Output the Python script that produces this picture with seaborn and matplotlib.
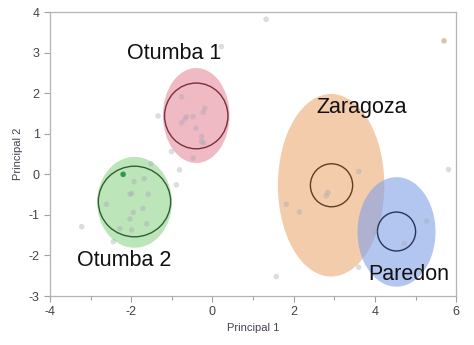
import matplotlib
matplotlib.use("Agg")
import matplotlib.pyplot as plt
from matplotlib.patches import Ellipse
import seaborn as sns
import pandas as pd

# ---- data ----
groups = ["Otumba 1", "Otumba 2", "Zaragoza", "Paredon"]
# outer ellipse (center x, center y, half-width, half-height)
ell_cx = [-0.40, -1.92, 2.92, 4.53]
ell_cy = [1.45, -0.69, -0.27, -1.42]
ell_rx = [0.82, 0.92, 1.31, 0.96]
ell_ry = [1.17, 1.12, 2.25, 1.35]
# inner circle (center x, center y, radius x, radius y)
circ_cx = [-0.40, -1.92, 2.93, 4.53]
circ_cy = [1.44, -0.67, -0.27, -1.41]
circ_rx = [0.78, 0.89, 0.52, 0.47]
circ_ry = [0.81, 0.87, 0.53, 0.48]
# group label positions
label_x = [-0.95, -2.17, 3.67, 4.83]
label_y = [2.97, -2.12, 1.64, -2.47]

pts_x = [-0.76, -1.34, -0.19, -0.23, -0.48, -0.64, -0.68, -0.76, -0.41, -0.27,
         -0.27, -0.22, -0.48, -1.01, 0.22,
         -1.52, -1.93, -1.68, -2.03, -1.99, -1.58, -2.61, -1.71, -1.95, -2.03,
         -1.62, -2.28, -1.99, -2.44, -3.22, -0.81, -0.89,
         3.60, 2.84, 2.80, 1.82, 2.14, 3.60, 1.57, 1.32,
         5.27, 4.72, 3.99, 5.81]
pts_y = [1.91, 1.44, 1.63, 1.53, 1.42, 1.42, 1.36, 1.27, 1.14, 0.93,
         0.81, 0.77, 0.40, 0.56, 3.15,
         0.26, -0.18, -0.11, -0.49, -0.47, -0.49, -0.74, -0.84, -0.94, -1.10,
         -1.22, -1.34, -1.37, -1.66, -1.29, 0.11, -0.26,
         0.07, -0.45, -0.53, -0.74, -0.93, -2.29, -2.52, 3.82,
         -1.15, -1.71, -1.41, 0.12]
hl_x = [-2.20]
hl_y = [0.00]
tan_x = [5.70]
tan_y = [3.29]

fills = ["#e6909e", "#95d690", "#eaad78", "#85a3e8"]
edges = ["#7a2f3c", "#2c5f33", "#5e3d22", "#27355c"]

sns.set_style("white")
plt.rcParams["font.family"] = ["Liberation Sans", "DejaVu Sans"]
plt.rcParams["axes.unicode_minus"] = False

fig = plt.figure(figsize=(4.74, 3.45), dpi=100)
ax = fig.add_axes([0.1055, 0.142, 0.857, 0.823])

for i in range(4):
    ax.add_patch(Ellipse((ell_cx[i], ell_cy[i]), 2 * ell_rx[i], 2 * ell_ry[i],
                         facecolor=fills[i], edgecolor="none", alpha=0.62, zorder=1))
    ax.add_patch(Ellipse((circ_cx[i], circ_cy[i]), 2 * circ_rx[i], 2 * circ_ry[i],
                         facecolor="none", edgecolor=edges[i], lw=1.0, zorder=3))

df = pd.DataFrame({"x": pts_x, "y": pts_y})
sns.scatterplot(data=df, x="x", y="y", ax=ax, color="#a8a8b4", alpha=0.4,
                s=16, edgecolor="none", zorder=4, legend=False)
sns.scatterplot(x=hl_x, y=hl_y, ax=ax, color="#2f9a3f", s=16, edgecolor="none", zorder=5)
sns.scatterplot(x=tan_x, y=tan_y, ax=ax, color="#d9c6a8", s=16, edgecolor="none", zorder=5)

for i in range(4):
    ax.text(label_x[i], label_y[i], groups[i], fontsize=15.5, color="#111111",
            ha="center", va="center", zorder=6)

ax.set_xlim(-4, 6)
ax.set_ylim(-3, 4)
ax.set_xticks([-4, -2, 0, 2, 4, 6])
ax.set_xticks([-3, -1, 1, 3, 5], minor=True)
ax.set_yticks(range(-3, 5))
ax.set_xlabel("Principal 1", fontsize=8, color="#4a4050", labelpad=3)
ax.set_ylabel("Principal 2", fontsize=8, color="#4a4050", labelpad=4)
ax.tick_params(axis="both", which="major", labelsize=9, labelcolor="#444444",
               color="#a0a0a0", length=4, width=0.8, direction="out",
               bottom=True, left=True)
ax.tick_params(axis="x", which="minor", color="#a0a0a0", length=3, width=0.8,
               direction="out", bottom=True)
for s in ax.spines.values():
    s.set_color("#b4b4b4")
    s.set_linewidth(0.9)

fig.savefig("out.png", dpi=100)
